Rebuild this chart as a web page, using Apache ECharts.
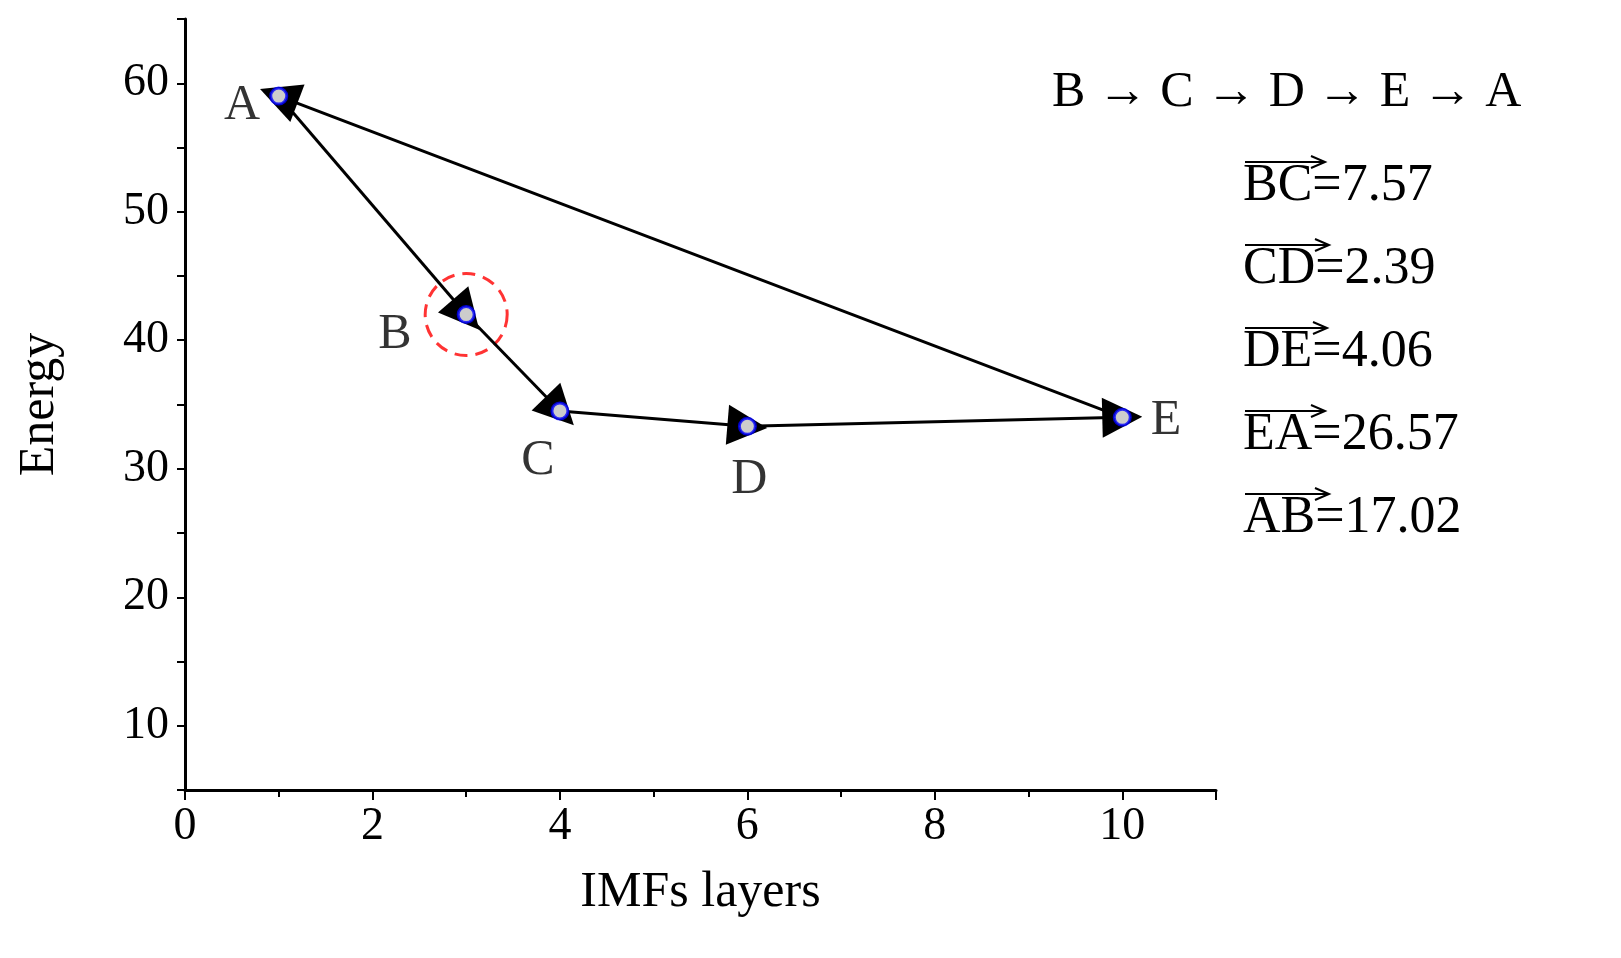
<!DOCTYPE html>
<html><head><meta charset="utf-8">
<script src="https://cdn.jsdelivr.net/npm/echarts@6/dist/echarts.min.js"></script>
<style>html,body{margin:0;background:#fff}#c{width:1621px;height:958px}</style>
</head><body><div id="c"></div>
<script>
const pointNames = ['A','B','C','D','E'];
const xValues = [1,3,4,6,10];
const yValues = [59,42,34.5,33.3,34];
const pathOrder = ['A','B','C','D','E','A'];
const vecNames = ['BC','CD','DE','EA','AB'];
const vecValues = ['7.57','2.39','4.06','26.57','17.02'];
const sequenceText = 'B \u2192 C \u2192 D \u2192 E \u2192 A';

const F = 'Liberation Serif';
const chart = echarts.init(document.getElementById('c'));
const labelPos = {A:['left',[-4,10]],B:['left',[-40,20]],C:['bottom',[-22,10]],D:['bottom',[2,14]],E:['right',[14,4]]};
const pts = pointNames.map((n,i)=>({name:n,value:[xValues[i],yValues[i]],
  label:{position:labelPos[n][0],offset:labelPos[n][1],color:'#000'}}));
const idx = n => pointNames.indexOf(n);
const segs = [];
for(let i=0;i<pathOrder.length-1;i++){
  const a=idx(pathOrder[i]), b=idx(pathOrder[i+1]);
  segs.push({coords:[[xValues[a],yValues[a]],[xValues[b],yValues[b]]]});
}

const graphics = [{type:'text',left:1052,top:68,style:{text:sequenceText,font:'50px "'+F+'"',fill:'#000'}}];
const widths = {BC:80,CD:84,DE:82,EA:80,AB:84};
vecNames.forEach((v,i)=>{
  const y0 = 160 + i*83;
  graphics.push({type:'text',left:1243,top:y0,style:{text:v+'='+vecValues[i],font:'52px "'+F+'"',fill:'#000'}});
  const w = widths[v], x1=1245, ly=y0+2;
  graphics.push({type:'line',shape:{x1:x1,y1:ly,x2:x1+w,y2:ly},style:{stroke:'#000',lineWidth:2}});
  graphics.push({type:'polyline',shape:{points:[[x1+w-14,ly-6],[x1+w,ly],[x1+w-14,ly+6]]},style:{stroke:'#000',lineWidth:2,fill:null}});
});

chart.setOption({
  animation:false,
  grid:{left:185,right:405,top:19,bottom:168},
  xAxis:{type:'value',min:0,max:11,interval:2,
    name:'IMFs layers',nameLocation:'middle',nameGap:78,
    nameTextStyle:{fontFamily:F,fontSize:50,color:'#000'},
    axisLine:{onZero:false,lineStyle:{color:'#000',width:3}},
    axisTick:{length:10,lineStyle:{width:2,color:'#000'}},
    minorTick:{show:true,splitNumber:2,length:7,lineStyle:{color:'#000',width:2}},
    axisLabel:{fontFamily:F,fontSize:46,color:'#000',margin:14,formatter:v=>v>10?'':v},
    splitLine:{show:false}},
  yAxis:{type:'value',min:5,max:65,interval:5,
    name:'Energy',nameLocation:'middle',nameGap:120,nameRotate:90,
    nameTextStyle:{fontFamily:F,fontSize:50,color:'#000'},
    axisLine:{onZero:false,lineStyle:{color:'#000',width:3}},
    axisTick:{length:8,lineStyle:{width:2,color:'#000'}},
    axisLabel:{fontFamily:F,fontSize:46,color:'#000',margin:16,formatter:v=>(v%10===0&&v>=10&&v<=60)?v:''},
    splitLine:{show:false}},
  graphic:graphics,
  series:[
    {type:'lines',coordinateSystem:'cartesian2d',data:segs,z:2,
      lineStyle:{color:'#000',width:3,opacity:1},
      symbol:['none','triangle'],symbolSize:[24,40]},
    {type:'scatter',data:[{value:[xValues[1],yValues[1]]}],symbol:'circle',symbolSize:82,z:1,silent:true,
      itemStyle:{color:'transparent',borderColor:'#f00',borderWidth:3,borderType:[13,8]}},
    {type:'scatter',data:pts,symbol:'circle',symbolSize:16,z:3,
      itemStyle:{color:'#fff',borderColor:'#00f',borderWidth:3},
      label:{show:true,formatter:'{b}',fontFamily:F,fontSize:50,color:'#000'}}
  ]
});
</script></body></html>
